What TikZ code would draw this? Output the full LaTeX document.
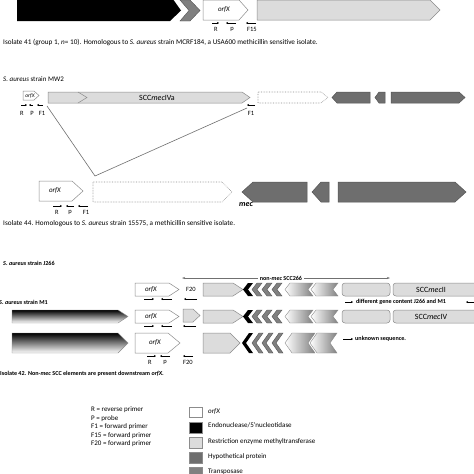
\documentclass[tikz,border=0pt]{standalone}
\usepackage{fontspec}
\setmainfont{Carlito}
\usetikzlibrary{arrows.meta}
\definecolor{lg}{HTML}{DCDCDC}
\definecolor{lgd}{HTML}{8C8C8C}
\definecolor{dg}{HTML}{6E6E6E}
\definecolor{dgd}{HTML}{555555}
\definecolor{mg}{HTML}{808080}
\newcommand\RArr[6][]{\path[#1] (#2,#5) -- (#3,#5) -- (#4,{(#5+#6)/2}) -- (#3,#6) -- (#2,#6) -- cycle;}
\newcommand\LArr[6][]{\path[#1] (#2,{(#5+#6)/2}) -- (#3,#5) -- (#4,#5) -- (#4,#6) -- (#3,#6) -- cycle;}
\newcommand\LChev[6][]{\path[#1] (#2,{(#5+#6)/2}) -- ({#2+#3},#5) -- ({#2+#3+#4},#5) -- ({#2+#4},{(#5+#6)/2}) -- ({#2+#3+#4},#6) -- ({#2+#3},#6) -- cycle;}
\newcommand\PR[3]{\draw[primer,-{Stealth[length=2pt,width=2pt]}] (#1,#3) -- (#2,#3);}
\tikzset{
  orfbox/.style={draw=lgd,fill=white,line width=0.5pt},
  lgbox/.style={draw=lgd,fill=lg,line width=0.5pt},
  dgbox/.style={draw=dgd,fill=dg,line width=0.5pt},
  dotbox/.style={draw=lgd,fill=white,densely dotted,line width=0.6pt},
  blk/.style={fill=black},
  mgchev/.style={fill=mg,draw=dgd,line width=0.4pt},
  grchev/.style={left color=white,right color=mg,draw=lgd,line width=0.4pt},
  grarr/.style={top color=black,bottom color=white,draw=lgd,line width=0.4pt},
  primer/.style={line width=0.5pt,black},
  txt/.style={inner sep=0pt,font=\fontsize{7}{8}\selectfont},
  captxt/.style={inner sep=0pt,font=\fontsize{7.2}{8}\selectfont},
  btxt/.style={inner sep=0pt,font=\fontsize{6.1}{7}\selectfont\bfseries},
  lab/.style={inner sep=0pt,font=\fontsize{6.5}{7}\selectfont},
  orft/.style={inner sep=0pt,font=\fontsize{7}{8}\selectfont\itshape},
  big/.style={inner sep=0pt,font=\fontsize{8}{9}\selectfont},
  swatch/.style={draw=lgd,line width=0.5pt},
}
\begin{document}
\begin{tikzpicture}[x=1pt,y=-1pt]
\useasboundingbox[fill=white] (0,0) rectangle (474,474);
% ---------------- Isolate 41
\path[blk] (17,-5) -- (170,-5) -- (181,10.5) -- (170,21) -- (17,21) -- cycle;
\path[fill=mg,draw=dgd,line width=0.4pt] (180,0) -- (190,0) -- (200,10.5) -- (190,21) -- (180,21) -- (189,10.5) -- cycle;
\RArr[orfbox]{203}{239}{248}{0}{20}
\node[orft] (o41) at (224,10) {orfX};
\RArr[lgbox]{257}{430}{440}{0}{20}
\PR{212}{219}{23}\PR{236}{226}{23}\PR{256}{246}{23}
\node[lab] (r41) at (216,29.5) {R};
\node[lab] (p41) at (232,29.5) {p};
\node[lab] (f41) at (252,29.5) {F15};
\node[captxt,anchor=west] (cap41) at (3,42) {Isolate 41 (group 1, \textit{n}= 10). Homologous to \textit{S. aureus} strain MCRF184, a USA600 methicillin sensitive isolate.};
% ---------------- MW2
\node[txt,anchor=west] (mw2) at (3,79) {\textit{S. aureus} strain MW2};
\RArr[orfbox]{23}{34}{39}{91}{100}
\node[inner sep=0pt,font=\fontsize{5.5}{6}\selectfont\itshape] (o2) at (30,95.5) {orfX};
\RArr[lgbox]{48}{242}{250}{92}{103}
\draw[lgd,line width=0.5pt] (78,92) -- (87,97.5) -- (78,103);
\node[big] (scc4a) at (157,97.5) {SCC\textit{mec}IVa};
\RArr[dotbox]{258}{321}{328}{92}{103}
\LArr[dgbox]{332}{337}{370}{92}{103}
\LArr[dgbox]{375}{379}{385}{92}{103}
\RArr[dgbox]{391}{459}{465}{92}{103}
\PR{21}{27}{105}\PR{33}{29}{105}\PR{43}{37}{105}\PR{255}{247}{105}
\node[lab] (r2) at (22,113) {R};
\node[lab] (p2) at (32,113) {P};
\node[lab] (f2) at (42,113) {F1};
\node[lab] (f2b) at (251,113) {F1};
\coordinate (vA) at (47,106);
\coordinate (vB) at (247,108);
\coordinate (vC) at (95,176);
\draw[lgd!80!black,line width=0.6pt] (vA) -- (vC) -- (vB);
% ---------------- Isolate 44
\RArr[orfbox]{39}{72}{83}{181}{201}
\node[orft] (o44) at (55,191) {orfX};
\RArr[dotbox]{93}{222}{232}{182}{202}
\node[inner sep=0pt,font=\fontsize{8}{9}\selectfont\bfseries\itshape] (mec) at (246,205) {mec};
\LArr[dgbox]{242}{253}{307}{182}{202}
\LArr[dgbox]{312}{321}{329}{182}{202}
\RArr[dgbox]{338}{455}{466}{182}{202}
\PR{53}{62}{206}\PR{74}{66}{206}\PR{88}{78}{206}
\node[lab] (r3) at (57,212.5) {R};
\node[lab] (p3) at (70,212.5) {p};
\node[lab] (f3) at (86,212.5) {F1};
\node[captxt,anchor=west] (cap44) at (3,224) {Isolate 44. Homologous to \textit{S. aureus} strain 15575, a methicillin sensitive isolate.};
% ---------------- Isolate 42
\node[btxt,anchor=west] (j266) at (3,263) {\textit{S. aureus} strain J266};
\coordinate (n1) at (182,278);
\coordinate (n2) at (390,278);
\draw[lgd!80!black,line width=0.5pt,{Stealth[length=3pt,width=2pt]}-{Stealth[length=3pt,width=2pt]}] (n1) -- (n2);
\node[btxt,fill=white,inner xsep=2pt] (nonmec) at (281,278) {non-\textit{mec} SCC266};
% row J266
\RArr[orfbox]{135}{169}{179}{283}{296}
\node[orft] (oj) at (151,289.5) {orfX};
\node[lab] (f20a) at (191,289.5) {F20};
\PR{144}{154}{299}\PR{172}{161}{299}\PR{197}{184}{299}
\RArr[lgbox]{203}{233}{243}{283}{296}
\LChev[blk]{243}{5}{5}{283}{296}
\LChev[mgchev]{252}{5}{5}{283}{296}
\LChev[mgchev]{262}{5}{5}{283}{296}
\LChev[mgchev]{272}{5}{5}{283}{296}
\LChev[grchev]{285}{5}{23}{283}{296}
\LChev[grchev]{311}{5}{22}{283}{296}
\draw[lgbox,rounded corners=3pt] (342,283) rectangle (390,296);
\draw[lgbox,rounded corners=3pt] (393,283) rectangle (478,296);
\node[big] (sccII) at (431,289.5) {SCC\textit{mec}II};
% middle line
\node[btxt,anchor=west] (m1) at (-1,302) {\textit{S. aureus} strain M1};
\coordinate (d1) at (345,302);
\coordinate (d2) at (353,302);
\draw[primer,-{Stealth[length=2pt,width=2pt]}] (d1) -- (d2);
\node[btxt,anchor=west] (diff) at (356,302) {different gene content J266 and M1};
\coordinate (d3) at (476,302);
\coordinate (d4) at (466,302);
\draw[primer,-{Stealth[length=2pt,width=2pt]}] (d3) -- (d4);
% row M1
\RArr[grarr]{12}{118}{128}{310}{323}
\RArr[orfbox]{135}{169}{179}{310}{323}
\node[orft] (om) at (151,316.5) {orfX};
\RArr[lgbox]{183}{193}{200}{309}{322}
\PR{144}{154}{326}\PR{172}{161}{326}\PR{196}{183}{326}
\RArr[lgbox]{203}{233}{243}{310}{323}
\LChev[blk]{243}{5}{5}{310}{323}
\LChev[mgchev]{252}{5}{5}{310}{323}
\LChev[mgchev]{262}{5}{5}{310}{323}
\LChev[mgchev]{272}{5}{5}{310}{323}
\LChev[grchev]{285}{5}{23}{310}{323}
\LChev[grchev]{311}{5}{22}{310}{323}
\draw[lgbox,rounded corners=3pt] (342,310) rectangle (390,323);
\draw[lgbox,rounded corners=3pt] (393,310) rectangle (478,323);
\node[big] (sccIV) at (431,316.5) {SCC\textit{mec}IV};
% row 3
\RArr[grarr]{12}{118}{128}{333}{353}
\RArr[orfbox]{135}{168}{180}{333}{353}
\node[orft] (o3r) at (155,343) {orfX};
\PR{147}{156}{356}\PR{170}{160}{356}\PR{193}{183}{356}
\node[lab] (r4) at (150,362.5) {R};
\node[lab] (p4) at (165,362.5) {p};
\node[lab] (f4) at (188,362.5) {F20};
\RArr[lgbox]{203}{230}{240}{333}{353}
\LChev[blk]{242}{7}{4}{333}{353}
\LChev[mgchev]{252}{7}{4}{333}{353}
\LChev[mgchev]{262}{7}{4}{333}{353}
\LChev[mgchev]{272}{7}{4}{333}{353}
\LChev[grchev]{285}{7}{23}{333}{353}
\LChev[grchev]{310}{7}{20}{333}{353}
\coordinate (u1) at (343,339);
\coordinate (u2) at (353,339);
\draw[primer,-{Stealth[length=2pt,width=2pt]}] (u1) -- (u2);
\node[btxt,anchor=west] (unk) at (355,339) {unknown sequence.};
\node[btxt,anchor=west] (cap42) at (0,374) {Isolate 42. Non-\textit{mec} SCC elements are present downstream \textit{orfX}.};
% ---------------- Legend
\node[txt,anchor=west] (l1) at (91,410) {R = reverse primer};
\node[txt,anchor=west] (l2) at (91,418.5) {P = probe};
\node[txt,anchor=west] (l3) at (91,427) {F1 = forward primer};
\node[txt,anchor=west] (l4) at (91,435.5) {F15 = forward primer};
\node[txt,anchor=west] (l5) at (91,444) {F20 = forward primer};
\draw[swatch,fill=white] (189,407) rectangle (202,417);
\draw[swatch,fill=black] (189,422) rectangle (202,433);
\draw[swatch,fill=lg] (189,437) rectangle (202,448);
\draw[swatch,fill=dg] (189,452) rectangle (202,463);
\draw[swatch,fill=mg] (189,467) rectangle (202,478);
\node[txt,anchor=west] (k1) at (208,412) {\itshape orfX};
\node[txt,anchor=west] (k2) at (208,425) {Endonuclease/5'nucleotidase};
\node[txt,anchor=west] (k3) at (208,442) {Restriction enzyme methyltransferase};
\node[txt,anchor=west] (k4) at (208,457) {Hypothetical protein};
\node[txt,anchor=west] (k5) at (208,472) {Transposase};
\end{tikzpicture}
\end{document}
